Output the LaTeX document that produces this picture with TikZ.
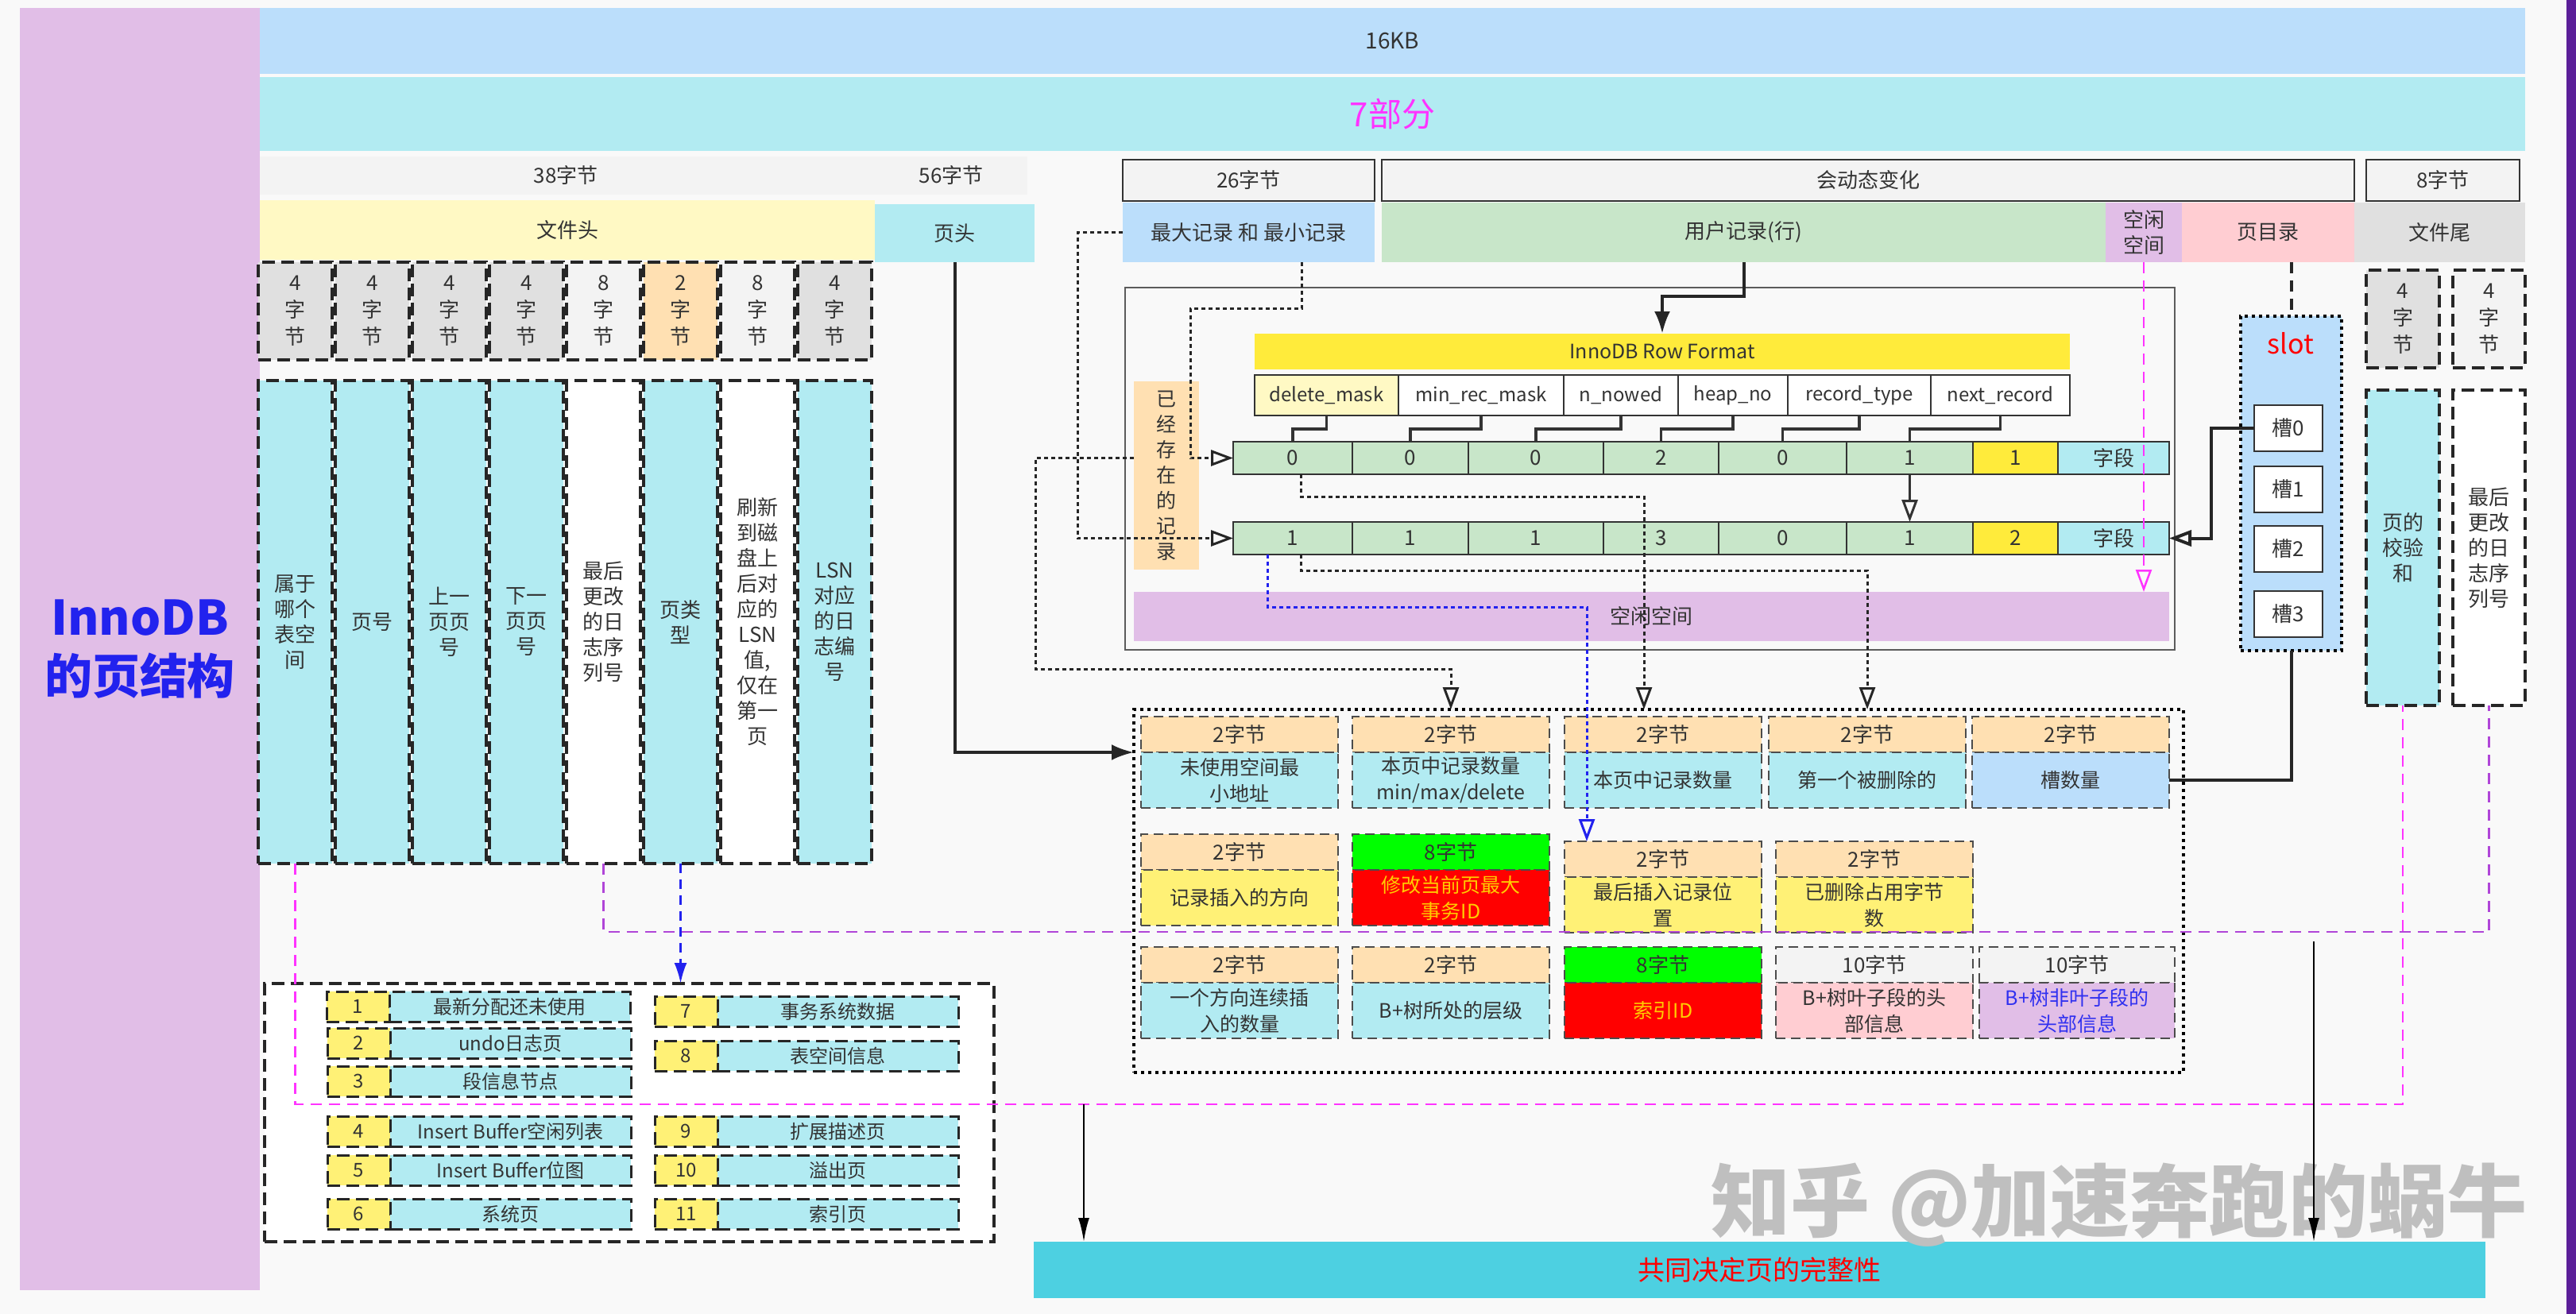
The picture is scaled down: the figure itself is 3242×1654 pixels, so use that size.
\documentclass[tikz,border=0pt]{standalone}
\usepackage{fontspec}
\setmainfont{Noto Sans CJK SC}
\usepackage{tikz}
\usetikzlibrary{arrows.meta,positioning,calc}

\definecolor{pagebg}{HTML}{F9F9F9}
\definecolor{ink}{HTML}{333333}
\definecolor{lilac}{HTML}{E1BEE7}
\definecolor{skyblue}{HTML}{BBDEFB}
\definecolor{aqua}{HTML}{B2EBF2}
\definecolor{paleyel}{HTML}{FFF9C4}
\definecolor{lightgr}{HTML}{F3F3F3}
\definecolor{midgr}{HTML}{E0E0E0}
\definecolor{peach}{HTML}{FFE0B2}
\definecolor{mint}{HTML}{C8E6C9}
\definecolor{rosy}{HTML}{FFCDD2}
\definecolor{lemon}{HTML}{FFF176}
\definecolor{gold}{HTML}{FFEB3B}
\definecolor{barteal}{HTML}{4DD0E1}
\definecolor{mag}{HTML}{FF33FF}
\definecolor{purp}{HTML}{B045D8}
\definecolor{titleblue}{HTML}{2222EE}
\definecolor{idtext}{HTML}{FFCC00}
\definecolor{leafblue}{HTML}{3030F0}
\definecolor{neon}{HTML}{00FF00}
\definecolor{sidebar}{HTML}{5B1F99}

\newcommand\fsz[2]{\fontsize{#1}{#2}\selectfont}

\begin{document}
\begin{tikzpicture}[x=1pt, y=-1pt, >=Latex, font=\fsz{26}{34},
  every node/.style={text=ink},
  box/.style={anchor=north west, inner sep=0pt, outer sep=0pt, align=center},
  bolddash/.style={draw=black!85, line width=3.5pt, dash pattern=on 16pt off 8pt},
  greydash/.style={draw=black!70, line width=2.5pt, dash pattern=on 12pt off 7pt},
  dotframe/.style={draw=black, line width=4pt, dash pattern=on 4pt off 5pt},
  framed/.style={draw=ink, line width=2pt},
  bytebox/.style={box, bolddash, minimum width=93pt, minimum height=123pt, font=\fsz{26}{34}},
  fieldcol/.style={box, bolddash, minimum width=93pt, minimum height=608pt, font=\fsz{26}{32}},
  typenum/.style={box, bolddash, line width=3pt, fill=lemon, minimum width=79pt, minimum height=38pt, font=\fsz{24}{28}},
  typename/.style={box, bolddash, line width=3pt, fill=aqua, minimum width=303pt, minimum height=38pt, font=\fsz{24}{28}},
  fieldhd/.style={box, framed, fill=white, minimum height=51pt, font=\fsz{24}{28}},
  rowcell/.style={box, framed, minimum height=41pt},
  slotcell/.style={box, framed, fill=white, minimum width=86pt, minimum height=58pt},
  hdr/.style={box, greydash, minimum width=248pt, minimum height=45pt},
  dsc/.style={box, greydash, minimum width=248pt, minimum height=70pt, font=\fsz{25}{33}},
  link/.style={draw=black!85, line width=4pt},
  elbow/.style={draw=ink, line width=3.5pt},
  dotlink/.style={draw=black!85, line width=3pt, dash pattern=on 5pt off 4pt},
  bluelink/.style={draw=titleblue, line width=3pt, dash pattern=on 5pt off 4pt},
  magline/.style={draw=mag, line width=2.5pt, dash pattern=on 14pt off 9pt},
  hollow/.style={-{Triangle[open,length=28pt,width=20pt]}},
  solidtip/.style={-{Latex[length=28pt,width=20pt]}},
  ]
  \useasboundingbox (0,0) rectangle (3242,1654);
  \fill[pagebg] (0,0) rectangle (3242,1654);
  \fill[sidebar] (3230,0) rectangle (3242,1654);

  % left title panel
  \node[box, fill=lilac, minimum width=302pt, minimum height=1614pt] (side) at (25,10) {};
  \node[text=titleblue, font=\fsz{60}{74}\bfseries, align=center] (title) at (176,817) {InnoDB\\的页结构};

  % overall bars
  \node[box, fill=skyblue, minimum width=2851pt, minimum height=83pt, font=\fsz{28}{32}] (kb) at (327,10) {16KB};
  \node[box, fill=aqua, minimum width=2851pt, minimum height=93pt, text=mag, font=\fsz{42}{48}] (parts) at (327,97) {7部分};

  % sizes
  \node[box, fill=lightgr, minimum width=966pt, minimum height=48pt] (sizes) at (327,197) {};
  \node (b38) at (712,221) {38字节};
  \node (b56) at (1197,221) {56字节};
  \node[box, framed, fill=lightgr, minimum width=317pt, minimum height=52pt] (b26) at (1413,201) {26字节};
  \node[box, framed, fill=lightgr, minimum width=1224pt, minimum height=52pt] (bdyn) at (1739,201) {会动态变化};
  \node[box, framed, fill=lightgr, minimum width=193pt, minimum height=52pt] (b8) at (2978,201) {8字节};

  % the seven parts
  \node[box, fill=paleyel, minimum width=774pt, minimum height=75pt] (fhead) at (327,252) {文件头};
  \node[box, fill=aqua, minimum width=201pt, minimum height=73pt] (phead) at (1101,257) {页头};
  \node[box, fill=skyblue, minimum width=317pt, minimum height=75pt] (infsup) at (1413,255) {最大记录 和 最小记录};
  \node[box, fill=mint, minimum width=911pt, minimum height=75pt] (urec) at (1739,255) {用户记录(行)};
  \node[box, fill=lilac, minimum width=96pt, minimum height=75pt, right=0pt of urec, font=\fsz{26}{32}] (free) {空闲\\空间};
  \node[box, fill=rosy, minimum width=217pt, minimum height=75pt, right=0pt of free] (pdir) {页目录};
  \node[box, fill=midgr, minimum width=215pt, minimum height=75pt, right=0pt of pdir] (ftrail) {文件尾};

  % file header fields
  \node[bytebox, fill=midgr] (fb1) at (325,330) {4\\字\\节};
  \node[bytebox, fill=midgr, right=4pt of fb1] (fb2) {4\\字\\节};
  \node[bytebox, fill=midgr, right=4pt of fb2] (fb3) {4\\字\\节};
  \node[bytebox, fill=midgr, right=4pt of fb3] (fb4) {4\\字\\节};
  \node[bytebox, fill=lightgr, right=4pt of fb4] (fb5) {8\\字\\节};
  \node[bytebox, fill=peach, right=4pt of fb5] (fb6) {2\\字\\节};
  \node[bytebox, fill=lightgr, right=4pt of fb6] (fb7) {8\\字\\节};
  \node[bytebox, fill=midgr, right=4pt of fb7] (fb8) {4\\字\\节};

  \node[fieldcol, fill=aqua] (fd1) at (325,479) {属于\\哪个\\表空\\间};
  \node[fieldcol, fill=aqua, right=4pt of fd1] (fd2) {页号};
  \node[fieldcol, fill=aqua, right=4pt of fd2] (fd3) {上一\\页页\\号};
  \node[fieldcol, fill=aqua, right=4pt of fd3] (fd4) {下一\\页页\\号};
  \node[fieldcol, fill=white, right=4pt of fd4] (fd5) {最后\\更改\\的日\\志序\\列号};
  \node[fieldcol, fill=aqua, right=4pt of fd5] (fd6) {页类\\型};
  \node[fieldcol, fill=white, right=4pt of fd6] (fd7) {刷新\\到磁\\盘上\\后对\\应的\\LSN\\值,\\仅在\\第一\\页};
  \node[fieldcol, fill=aqua, right=4pt of fd7] (fd8) {LSN\\对应\\的日\\志编\\号};

  % page types
  \node[box, bolddash, fill=white, minimum width=918pt, minimum height=325pt] (ptbox) at (333,1238) {};
  \node[typenum] (tn1) at (411,1248) {1};
  \node[typename, right=0pt of tn1] (tt1) {最新分配还未使用};
  \node[typenum] (tn2) at (412,1294) {2};
  \node[typename, right=0pt of tn2] (tt2) {undo日志页};
  \node[typenum] (tn3) at (412,1342) {3};
  \node[typename, right=0pt of tn3] (tt3) {段信息节点};
  \node[typenum] (tn4) at (412,1405) {4};
  \node[typename, right=0pt of tn4] (tt4) {Insert Buffer空闲列表};
  \node[typenum] (tn5) at (412,1454) {5};
  \node[typename, right=0pt of tn5] (tt5) {Insert Buffer位图};
  \node[typenum] (tn6) at (412,1509) {6};
  \node[typename, right=0pt of tn6] (tt6) {系统页};
  \node[typenum] (tn7) at (824,1254) {7};
  \node[typename, right=0pt of tn7] (tt7) {事务系统数据};
  \node[typenum] (tn8) at (824,1310) {8};
  \node[typename, right=0pt of tn8] (tt8) {表空间信息};
  \node[typenum] (tn9) at (824,1405) {9};
  \node[typename, right=0pt of tn9] (tt9) {扩展描述页};
  \node[typenum] (tn10) at (824,1454) {10};
  \node[typename, right=0pt of tn10] (tt10) {溢出页};
  \node[typenum] (tn11) at (824,1509) {11};
  \node[typename, right=0pt of tn11] (tt11) {索引页};

  % user records
  \node[box, draw=ink!80, line width=1.5pt, minimum width=1321pt, minimum height=456pt] (recbox) at (1416,362) {};
  \node[box, fill=gold, minimum width=1026pt, minimum height=45pt, font=\fsz{25}{30}] (rowfmt) at (1579,420) {InnoDB Row Format};
  \node[fieldhd, fill=paleyel, minimum width=181pt] (fm1) at (1579,472) {delete\_mask};
  \node[fieldhd, minimum width=208pt, right=0pt of fm1] (fm2) {min\_rec\_mask};
  \node[fieldhd, minimum width=144pt, right=0pt of fm2] (fm3) {n\_nowed};
  \node[fieldhd, minimum width=138pt, right=0pt of fm3] (fm4) {heap\_no};
  \node[fieldhd, minimum width=180pt, right=0pt of fm4] (fm5) {record\_type};
  \node[fieldhd, minimum width=175pt, right=0pt of fm5] (fm6) {next\_record};
  \node[box, fill=peach, minimum width=82pt, minimum height=237pt, font=\fsz{25}{32}] (exist) at (1427,480) {已\\经\\存\\在\\的\\记\\录};

  \node[rowcell, fill=mint, minimum width=150pt] (r1c1) at (1552,556) {0};
  \node[rowcell, fill=mint, minimum width=146pt, right=0pt of r1c1] (r1c2) {0};
  \node[rowcell, fill=mint, minimum width=170pt, right=0pt of r1c2] (r1c3) {0};
  \node[rowcell, fill=mint, minimum width=145pt, right=0pt of r1c3] (r1c4) {2};
  \node[rowcell, fill=mint, minimum width=161pt, right=0pt of r1c4] (r1c5) {0};
  \node[rowcell, fill=mint, minimum width=159pt, right=0pt of r1c5] (r1c6) {1};
  \node[rowcell, fill=gold, minimum width=107pt, right=0pt of r1c6] (r1c7) {1};
  \node[rowcell, fill=aqua, minimum width=140pt, right=0pt of r1c7] (r1c8) {字段};

  \node[rowcell, fill=mint, minimum width=150pt] (r2c1) at (1552,657) {1};
  \node[rowcell, fill=mint, minimum width=146pt, right=0pt of r2c1] (r2c2) {1};
  \node[rowcell, fill=mint, minimum width=170pt, right=0pt of r2c2] (r2c3) {1};
  \node[rowcell, fill=mint, minimum width=145pt, right=0pt of r2c3] (r2c4) {3};
  \node[rowcell, fill=mint, minimum width=161pt, right=0pt of r2c4] (r2c5) {0};
  \node[rowcell, fill=mint, minimum width=159pt, right=0pt of r2c5] (r2c6) {1};
  \node[rowcell, fill=gold, minimum width=107pt, right=0pt of r2c6] (r2c7) {2};
  \node[rowcell, fill=aqua, minimum width=140pt, right=0pt of r2c7] (r2c8) {字段};

  \node[box, fill=lilac, minimum width=1303pt, minimum height=62pt] (freebar) at (1427,745) {空闲空间};

  % page directory
  \node[box, fill=skyblue, dotframe, minimum width=127pt, minimum height=421pt] (slot) at (2820,398) {};
  \node[text=red, font=\fsz{34}{38}] (slotname) at (2883,432) {slot};
  \node[slotcell] (s0) at (2837,510) {槽0};
  \node[slotcell] (s1) at (2837,587) {槽1};
  \node[slotcell] (s2) at (2837,662) {槽2};
  \node[slotcell] (s3) at (2837,744) {槽3};

  % file trailer
  \node[bytebox, fill=midgr, minimum width=92pt] (tb1) at (2978,340) {4\\字\\节};
  \node[bytebox, fill=lightgr, minimum width=91pt] (tb2) at (3087,340) {4\\字\\节};
  \node[fieldcol, fill=aqua, minimum width=92pt, minimum height=397pt] (td1) at (2978,491) {页的\\校验\\和};
  \node[fieldcol, fill=white, minimum width=91pt, minimum height=397pt] (td2) at (3087,491) {最后\\更改\\的日\\志序\\列号};

  % page header fields
  \node[box, dotframe, minimum width=1321pt, minimum height=457pt] (phbox) at (1427,893) {};
  \node[hdr, fill=peach] (ha1) at (1436,902) {2字节};
  \node[dsc, fill=aqua, below=0pt of ha1] (da1) {未使用空间最\\小地址};
  \node[hdr, fill=peach] (ha2) at (1702,902) {2字节};
  \node[dsc, fill=aqua, below=0pt of ha2] (da2) {本页中记录数量\\min/max/delete};
  \node[hdr, fill=peach] (ha3) at (1969,902) {2字节};
  \node[dsc, fill=aqua, below=0pt of ha3] (da3) {本页中记录数量};
  \node[hdr, fill=peach] (ha4) at (2226,902) {2字节};
  \node[dsc, fill=aqua, below=0pt of ha4] (da4) {第一个被删除的};
  \node[hdr, fill=peach] (ha5) at (2482,902) {2字节};
  \node[dsc, fill=skyblue, below=0pt of ha5] (da5) {槽数量};

  \node[hdr, fill=peach] (hb1) at (1436,1050) {2字节};
  \node[dsc, fill=lemon, below=0pt of hb1] (db1) {记录插入的方向};
  \node[hdr, fill=neon] (hb2) at (1702,1050) {8字节};
  \node[dsc, fill=red, text=idtext, below=0pt of hb2] (db2) {修改当前页最大\\事务ID};
  \node[hdr, fill=peach] (hb3) at (1969,1059) {2字节};
  \node[dsc, fill=lemon, below=0pt of hb3] (db3) {最后插入记录位\\置};
  \node[hdr, fill=peach] (hb4) at (2235,1059) {2字节};
  \node[dsc, fill=lemon, below=0pt of hb4] (db4) {已删除占用字节\\数};

  \node[hdr, fill=peach] (hc1) at (1436,1192) {2字节};
  \node[dsc, fill=aqua, below=0pt of hc1] (dc1) {一个方向连续插\\入的数量};
  \node[hdr, fill=peach] (hc2) at (1702,1192) {2字节};
  \node[dsc, fill=aqua, below=0pt of hc2] (dc2) {B+树所处的层级};
  \node[hdr, fill=neon] (hc3) at (1969,1192) {8字节};
  \node[dsc, fill=red, text=idtext, below=0pt of hc3] (dc3) {索引ID};
  \node[hdr, fill=lightgr] (hc4) at (2235,1192) {10字节};
  \node[dsc, fill=rosy, below=0pt of hc4] (dc4) {B+树叶子段的头\\部信息};
  \node[hdr, fill=lightgr, minimum width=246pt] (hc5) at (2491,1192) {10字节};
  \node[dsc, fill=lilac, text=leafblue, minimum width=246pt, below=0pt of hc5] (dc5) {B+树非叶子段的\\头部信息};

  % bottom
  \node[box, fill=barteal, minimum width=1827pt, minimum height=71pt, text=red, font=\fsz{34}{38}] (integ) at (1301,1563) {共同决定页的完整性};
  \node[text=black!25, font=\fsz{100}{110}\bfseries] (mark) at (2667,1517) {知乎 @加速奔跑的蜗牛};

  % connectors
  \draw[link, solidtip] (phead.south) |- (phbox.west |- da1.north);
  \draw[link, solidtip] (urec.south) -- ++(0,43) -| (rowfmt.north);
  \draw[elbow] (fm1.south) -- ++(0,17) -| (r1c1.north);
  \draw[elbow] (fm2.south) -- ++(0,17) -| (r1c2.north);
  \draw[elbow] (fm3.south) -- ++(0,17) -| (r1c3.north);
  \draw[elbow] (fm4.south) -- ++(0,17) -| (r1c4.north);
  \draw[elbow] (fm5.south) -- ++(0,17) -| (r1c5.north);
  \draw[elbow] (fm6.south) -- ++(0,17) -| (r1c6.north);
  \draw[elbow, line width=3pt, hollow] (r1c6.south) -- (r2c6.north);

  \draw[dotlink, hollow] ([xshift=67pt]infsup.south) -- ++(0,58) -| ([xshift=-11pt]exist.north east) |- (r1c1.west);
  \draw[dotlink, hollow] (infsup.west) -- ++(-57,0) |- (r2c1.west);
  \coordinate (t2) at ([yshift=60pt]ha2.north);
  \draw[dotlink, hollow] (exist.west |- r1c1.west) -- ++(-124,0) |- (t2) -- (t2 |- phbox.north);
  \coordinate (t3) at ([xshift=-24pt]ha3.north);
  \draw[dotlink, hollow] ([xshift=10pt]r1c1.south) -- ++(0,28) -| (t3 |- phbox.north);
  \draw[dotlink, hollow] ([xshift=10pt]r2c1.south) -- ++(0,20) -| (ha4.north |- phbox.north);
  \coordinate (t5) at ([xshift=-96pt]hb3.north);
  \draw[bluelink, hollow] ([xshift=-32pt]r2c1.south) -- ++(0,66) -| (t5);

  \draw[link, hollow] (s0.west) -- ++(-54,0) |- (r2c8.east);
  \draw[link, dash pattern=on 14pt off 9pt] (slot.north |- pdir.south) -- (slot.north);
  \draw[link] (slot.south) |- (da5.east);
  \draw[magline, hollow] (free.south) -- (free.south |- freebar.north);

  \draw[draw=titleblue, line width=3pt, dash pattern=on 12pt off 8pt, -{Latex[length=26pt,width=16pt]}] (fd6.south) -- (fd6.south |- ptbox.north);

  \coordinate (lowline) at (0,1390);
  \coordinate (upline) at (0,1173);
  \draw[magline] (fd1.south) -- (fd1.south |- lowline) -| (td1.south);
  \draw[magline, draw=purp] (fd5.south) -- (fd5.south |- upline) -| (td2.south);

  \coordinate (tapL) at (1364,1390);
  \coordinate (tapR) at (2912,1185);
  \draw[line width=2.5pt, -{Latex[length=30pt,width=14pt]}] (tapL) -- (tapL |- integ.north);
  \draw[line width=2.5pt, -{Latex[length=30pt,width=14pt]}] (tapR) -- (tapR |- integ.north);
\end{tikzpicture}
\end{document}
